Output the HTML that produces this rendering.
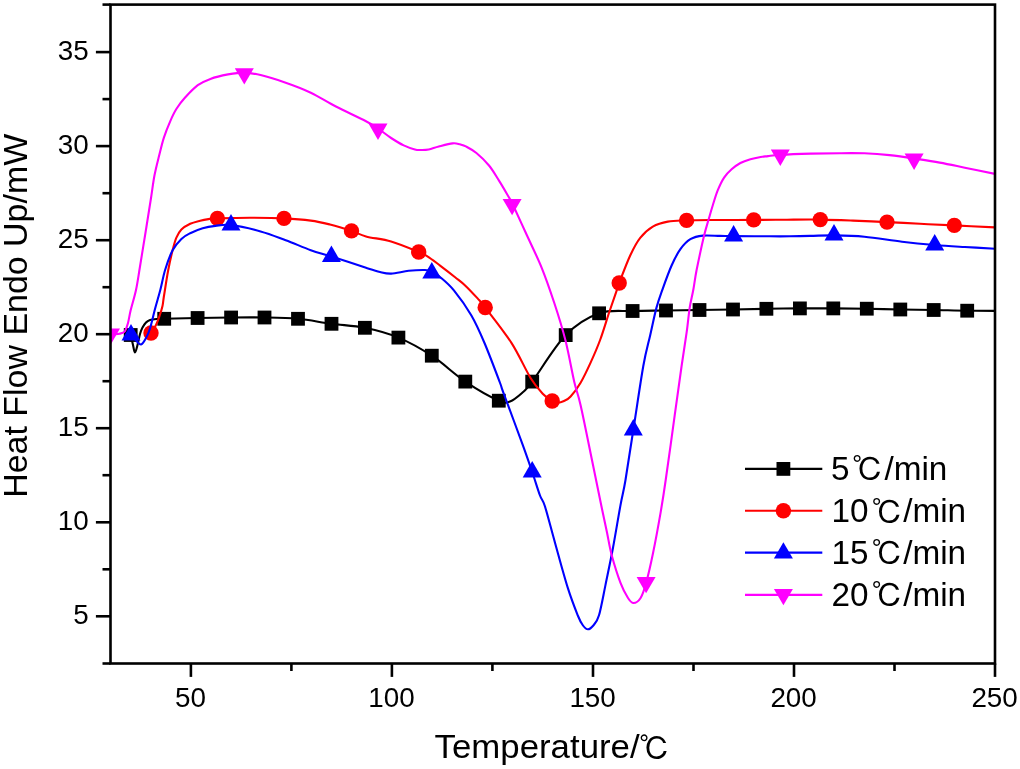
<!DOCTYPE html>
<html lang="en"><head><meta charset="utf-8"><title>Heat Flow vs Temperature</title>
<style>html,body{margin:0;padding:0;background:#fff;}svg{display:block;}text{font-family:"Liberation Sans","Noto Serif CJK SC",sans-serif;fill:#000;}.cj{font-family:"IPAGothic","Noto Serif CJK SC",serif;}</style></head><body>
<svg width="1020" height="769" viewBox="0 0 1020 769">
<rect width="1020" height="769" fill="#fff"/>
<defs><clipPath id="plot"><rect x="110.5" y="4.6" width="884.5" height="658.9"/></clipPath></defs>
<g clip-path="url(#plot)" fill="none" stroke-width="2.1" stroke-linejoin="round">
<path d="M130.7,335.0 C131.1,336.7 132.3,342.1 133.0,345.0 C133.7,347.9 134.2,352.5 135.0,352.5 C135.8,352.5 136.7,348.1 137.5,345.0 C138.3,341.9 139.2,336.9 140.0,334.0 C140.8,331.1 141.5,329.4 142.5,327.5 C143.5,325.6 144.8,323.8 146.0,322.5 C147.2,321.2 148.2,320.6 150.0,320.0 C151.8,319.4 154.6,319.2 157.0,319.0 C159.4,318.8 157.4,319.0 164.2,318.8 C171.0,318.6 186.4,318.2 197.6,318.0 C208.8,317.8 219.9,317.6 231.1,317.5 C242.2,317.4 253.3,317.3 264.5,317.5 C275.6,317.7 286.8,317.8 298.0,318.8 C309.2,319.9 320.4,322.3 331.5,323.8 C342.6,325.3 353.8,325.5 364.9,327.8 C376.0,330.1 387.2,333.0 398.4,337.6 C409.5,342.2 420.6,348.4 431.8,355.7 C443.0,363.0 454.1,374.1 465.3,381.6 C476.5,389.1 491.4,397.4 498.8,400.7 C506.2,404.0 506.1,402.8 510.0,401.5 C513.9,400.2 518.3,396.3 522.0,393.0 C525.7,389.7 524.9,391.2 532.2,381.6 C539.5,372.0 554.6,346.5 565.7,335.1 C576.9,323.7 588.0,317.3 599.1,313.3 C610.2,309.3 621.5,311.5 632.6,311.0 C643.8,310.5 654.9,310.7 666.0,310.5 C677.1,310.3 688.3,310.2 699.5,310.0 C710.7,309.8 721.9,309.7 733.0,309.5 C744.1,309.3 755.2,309.0 766.4,308.8 C777.5,308.6 788.8,308.5 799.9,308.4 C811.0,308.3 822.1,308.3 833.3,308.4 C844.4,308.4 855.6,308.5 866.8,308.7 C878.0,308.9 889.1,309.3 900.3,309.5 C911.4,309.7 922.6,309.8 933.7,310.0 C944.9,310.2 957.0,310.6 967.2,310.7 C977.4,310.8 990.4,310.9 995.0,310.9" stroke="#000"/>
<g stroke="none"><rect x="123.8" y="328.1" width="13.8" height="13.8" fill="#000"/><rect x="157.3" y="311.9" width="13.8" height="13.8" fill="#000"/><rect x="190.7" y="311.1" width="13.8" height="13.8" fill="#000"/><rect x="224.2" y="310.6" width="13.8" height="13.8" fill="#000"/><rect x="257.6" y="310.6" width="13.8" height="13.8" fill="#000"/><rect x="291.1" y="311.9" width="13.8" height="13.8" fill="#000"/><rect x="324.6" y="316.9" width="13.8" height="13.8" fill="#000"/><rect x="358.0" y="320.9" width="13.8" height="13.8" fill="#000"/><rect x="391.5" y="330.7" width="13.8" height="13.8" fill="#000"/><rect x="424.9" y="348.8" width="13.8" height="13.8" fill="#000"/><rect x="458.4" y="374.7" width="13.8" height="13.8" fill="#000"/><rect x="491.9" y="393.8" width="13.8" height="13.8" fill="#000"/><rect x="525.3" y="374.7" width="13.8" height="13.8" fill="#000"/><rect x="558.8" y="328.2" width="13.8" height="13.8" fill="#000"/><rect x="592.2" y="306.4" width="13.8" height="13.8" fill="#000"/><rect x="625.7" y="304.1" width="13.8" height="13.8" fill="#000"/><rect x="659.1" y="303.6" width="13.8" height="13.8" fill="#000"/><rect x="692.6" y="303.1" width="13.8" height="13.8" fill="#000"/><rect x="726.1" y="302.6" width="13.8" height="13.8" fill="#000"/><rect x="759.5" y="301.9" width="13.8" height="13.8" fill="#000"/><rect x="793.0" y="301.5" width="13.8" height="13.8" fill="#000"/><rect x="826.4" y="301.5" width="13.8" height="13.8" fill="#000"/><rect x="859.9" y="301.8" width="13.8" height="13.8" fill="#000"/><rect x="893.4" y="302.6" width="13.8" height="13.8" fill="#000"/><rect x="926.8" y="303.1" width="13.8" height="13.8" fill="#000"/><rect x="960.3" y="303.8" width="13.8" height="13.8" fill="#000"/></g>
<path d="M151.0,333.0 C151.8,331.7 154.6,327.8 156.0,325.0 C157.4,322.2 158.4,319.2 159.5,316.0 C160.6,312.8 161.8,309.2 162.5,306.0 C163.2,302.8 162.9,302.9 163.8,297.0 C164.8,291.1 166.7,278.1 168.2,270.3 C169.7,262.5 171.2,255.6 172.6,250.2 C174.0,244.8 174.9,241.0 176.4,237.6 C177.9,234.2 179.1,231.8 181.4,229.5 C183.7,227.2 187.1,225.3 190.2,223.8 C193.3,222.3 197.2,221.5 200.2,220.7 C203.2,219.9 205.5,219.5 208.4,219.1 C211.3,218.7 210.5,218.6 217.4,218.4 C224.3,218.2 238.9,217.8 250.0,217.8 C261.1,217.8 273.9,217.9 284.0,218.4 C294.1,218.9 303.1,219.6 310.8,220.6 C318.5,221.6 323.2,222.8 330.0,224.5 C336.8,226.2 345.5,228.9 351.5,230.9 C357.5,232.9 359.4,234.6 366.0,236.4 C372.6,238.2 382.3,238.9 391.1,241.5 C399.9,244.1 412.6,249.5 418.7,252.0 C424.8,254.5 424.2,254.3 427.8,256.6 C431.4,258.9 435.8,262.4 440.4,265.8 C444.9,269.2 451.0,273.9 455.1,277.2 C459.2,280.5 461.4,281.9 465.1,285.4 C468.9,288.9 474.2,294.7 477.6,298.4 C481.0,302.1 479.5,300.1 485.2,307.5 C490.9,314.9 504.1,331.4 511.6,343.1 C519.1,354.8 525.2,369.2 530.4,377.7 C535.6,386.2 539.4,390.1 543.0,394.0 C546.6,397.9 549.7,399.6 552.2,401.0 C554.7,402.4 556.0,402.7 558.0,402.7 C560.0,402.7 561.9,402.0 564.0,401.0 C566.1,400.0 567.8,399.6 570.6,396.5 C573.4,393.4 577.3,388.3 580.6,382.7 C583.9,377.1 587.3,369.8 590.6,362.6 C593.9,355.4 597.2,347.9 600.3,339.5 C603.4,331.1 606.6,320.0 609.3,312.0 C612.0,304.0 614.8,296.1 616.4,291.3 C618.0,286.5 616.9,289.0 619.2,283.0 C621.5,277.0 626.7,263.0 630.2,255.5 C633.7,248.0 636.4,242.7 640.2,237.9 C644.0,233.1 648.2,229.3 652.8,226.6 C657.4,223.9 662.2,222.6 667.8,221.6 C673.4,220.6 677.9,220.7 686.6,220.4 C695.3,220.1 708.8,220.1 720.0,220.0 C731.2,219.9 742.5,220.0 753.7,219.9 C764.9,219.8 775.9,219.8 787.0,219.7 C798.1,219.6 809.3,219.4 820.3,219.6 C831.3,219.8 841.9,220.2 853.0,220.6 C864.1,221.0 875.8,221.6 887.0,222.1 C898.2,222.6 908.8,223.2 920.0,223.8 C931.2,224.4 941.8,224.8 954.3,225.4 C966.8,226.0 988.2,227.1 995.0,227.4" stroke="#f00"/>
<g stroke="none"><circle cx="151.0" cy="333.0" r="7.7" fill="#f00"/><circle cx="217.4" cy="218.4" r="7.7" fill="#f00"/><circle cx="284.0" cy="218.4" r="7.7" fill="#f00"/><circle cx="351.5" cy="230.9" r="7.7" fill="#f00"/><circle cx="418.7" cy="252.0" r="7.7" fill="#f00"/><circle cx="485.2" cy="307.5" r="7.7" fill="#f00"/><circle cx="552.2" cy="401.0" r="7.7" fill="#f00"/><circle cx="619.2" cy="283.0" r="7.7" fill="#f00"/><circle cx="686.6" cy="220.4" r="7.7" fill="#f00"/><circle cx="753.7" cy="219.9" r="7.7" fill="#f00"/><circle cx="820.3" cy="219.6" r="7.7" fill="#f00"/><circle cx="887.0" cy="222.1" r="7.7" fill="#f00"/><circle cx="954.3" cy="225.4" r="7.7" fill="#f00"/></g>
<path d="M131.0,335.0 C131.8,335.9 134.3,338.9 136.0,340.5 C137.7,342.1 139.3,344.9 141.0,344.5 C142.7,344.1 144.5,340.7 146.0,338.0 C147.5,335.3 148.5,333.3 150.0,328.5 C151.5,323.7 153.3,315.4 155.0,309.0 C156.7,302.6 158.6,296.5 160.3,290.0 C162.0,283.5 163.1,276.6 165.1,270.0 C167.1,263.4 169.9,255.4 172.6,250.2 C175.3,245.0 178.5,241.7 181.4,238.9 C184.3,236.1 186.6,235.0 190.2,233.2 C193.8,231.4 198.5,229.4 202.7,228.2 C206.9,227.0 210.6,226.4 215.3,225.9 C220.0,225.4 223.4,224.1 231.0,225.0 C238.6,225.9 251.5,228.9 260.6,231.4 C269.7,233.9 277.3,237.1 285.7,240.2 C294.1,243.3 303.2,247.5 310.8,250.2 C318.4,252.9 322.2,253.6 331.4,256.5 C340.6,259.4 357.9,265.2 366.0,267.8 C374.1,270.4 375.8,271.0 380.0,272.0 C384.2,273.0 386.3,273.8 391.1,273.6 C395.9,273.4 403.1,271.4 408.7,270.8 C414.3,270.2 421.1,269.9 425.0,270.0 C428.9,270.1 429.3,270.3 431.8,271.5 C434.3,272.7 436.3,273.9 440.0,277.0 C443.7,280.1 448.7,284.0 453.9,290.4 C459.1,296.8 466.3,306.7 471.4,315.5 C476.5,324.3 479.8,331.9 484.5,343.0 C489.2,354.1 496.5,373.5 499.7,382.0 C502.9,390.5 500.0,383.4 503.9,394.0 C507.8,404.6 518.2,432.4 522.9,445.4 C527.6,458.4 529.4,463.6 532.2,472.0 C535.1,480.4 537.9,489.8 540.0,495.5 C542.1,501.2 542.5,498.5 545.0,506.5 C547.5,514.5 551.4,529.9 555.2,543.5 C559.0,557.1 564.0,575.9 567.8,587.9 C571.6,599.9 575.3,609.2 577.8,615.5 C580.3,621.8 581.3,623.2 583.0,625.5 C584.7,627.8 586.2,629.3 587.9,629.3 C589.6,629.3 591.4,627.8 593.3,625.5 C595.1,623.2 597.0,622.0 599.0,615.3 C601.0,608.6 603.1,596.6 605.4,585.4 C607.7,574.1 610.5,561.2 613.0,547.8 C615.5,534.4 618.4,516.4 620.5,505.1 C622.6,493.8 623.4,492.5 625.5,480.0 C627.6,467.5 630.3,449.0 633.3,430.0 C636.3,411.0 640.5,381.8 643.3,366.0 C646.1,350.2 648.0,344.9 650.2,335.2 C652.4,325.5 654.4,315.3 656.5,307.6 C658.6,299.9 660.2,295.8 662.7,288.8 C665.2,281.8 668.7,272.1 671.6,265.5 C674.5,258.9 677.3,253.6 680.4,249.2 C683.5,244.8 686.6,241.5 690.4,239.2 C694.2,236.9 698.1,236.1 703.0,235.6 C707.9,235.1 714.9,235.8 720.0,235.9 C725.1,236.0 726.9,236.0 733.6,236.1 C740.3,236.2 750.6,236.3 760.0,236.3 C769.4,236.3 781.7,236.4 790.0,236.3 C798.3,236.2 802.7,236.1 810.0,235.9 C817.3,235.8 824.9,235.3 834.0,235.4 C843.1,235.5 853.1,235.6 864.4,236.7 C875.7,237.8 890.3,240.3 902.0,241.7 C913.7,243.1 924.2,244.1 934.7,245.0 C945.2,245.9 954.8,246.4 964.8,247.0 C974.8,247.6 990.0,248.4 995.0,248.7" stroke="#00f"/>
<g stroke="none"><polygon points="131.0,324.1 121.5,340.4 140.5,340.4" fill="#00f"/><polygon points="231.0,214.1 221.5,230.4 240.5,230.4" fill="#00f"/><polygon points="331.4,245.6 321.9,261.9 340.9,261.9" fill="#00f"/><polygon points="431.8,262.1 422.3,278.4 441.3,278.4" fill="#00f"/><polygon points="532.2,461.1 522.7,477.4 541.7,477.4" fill="#00f"/><polygon points="633.3,419.1 623.8,435.4 642.8,435.4" fill="#00f"/><polygon points="733.6,225.1 724.1,241.4 743.1,241.4" fill="#00f"/><polygon points="834.0,224.1 824.5,240.4 843.5,240.4" fill="#00f"/><polygon points="934.7,234.1 925.2,250.4 944.2,250.4" fill="#00f"/></g>
<path d="M110.5,334.0 C111.8,334.0 116.1,334.2 118.0,334.0 C119.9,333.8 120.8,333.5 122.0,333.0 C123.2,332.5 124.0,332.7 125.0,331.0 C126.0,329.3 127.1,326.4 128.0,323.0 C128.9,319.6 129.3,316.1 130.6,310.6 C131.9,305.1 134.4,297.4 136.0,290.0 C137.6,282.6 138.4,276.2 140.0,266.5 C141.6,256.8 143.8,243.1 145.6,232.0 C147.4,220.9 149.2,209.4 150.7,200.0 C152.2,190.6 153.1,182.6 154.5,175.3 C155.9,168.1 157.3,162.8 158.9,156.5 C160.5,150.2 162.0,143.5 163.9,137.6 C165.8,131.7 168.1,126.1 170.2,121.3 C172.3,116.5 174.0,112.8 176.5,108.8 C179.0,104.8 181.8,101.2 185.3,97.3 C188.9,93.4 193.6,88.3 197.8,85.2 C202.0,82.1 205.4,80.7 210.4,78.9 C215.4,77.1 222.3,75.5 228.0,74.4 C233.7,73.4 238.9,72.5 244.3,72.6 C249.7,72.7 253.7,73.4 260.6,75.1 C267.5,76.8 277.3,79.8 285.7,82.7 C294.1,85.6 302.4,88.7 310.8,92.7 C319.2,96.7 326.7,101.8 335.9,106.5 C345.1,111.2 359.0,117.5 366.0,121.2 C373.0,124.9 373.8,125.7 378.0,128.5 C382.2,131.3 386.8,135.2 391.1,138.0 C395.4,140.8 399.7,143.5 403.7,145.4 C407.7,147.3 412.0,148.7 414.9,149.5 C417.8,150.3 418.7,150.0 421.0,150.0 C423.3,150.0 425.7,150.1 428.7,149.5 C431.7,148.9 434.8,147.5 438.8,146.5 C442.8,145.5 449.1,143.8 452.6,143.4 C456.1,143.0 457.7,143.8 460.0,144.3 C462.3,144.9 463.7,145.2 466.4,146.7 C469.1,148.1 472.6,149.9 476.4,153.0 C480.2,156.1 485.2,160.9 489.0,165.5 C492.8,170.1 495.6,175.2 499.0,180.6 C502.4,185.9 506.9,193.9 509.1,197.6 C511.3,201.3 509.4,197.3 512.1,203.0 C514.8,208.7 520.5,221.2 525.4,232.0 C530.3,242.8 536.9,256.0 541.7,267.8 C546.5,279.6 550.3,290.9 554.3,303.0 C558.3,315.1 562.2,327.4 565.5,340.6 C568.8,353.8 571.8,371.2 574.3,382.0 C576.8,392.8 577.5,391.3 580.6,405.3 C583.8,419.3 589.6,448.7 593.2,466.0 C596.8,483.3 599.7,497.9 602.0,509.0 C604.3,520.1 605.4,524.8 607.0,532.5 C608.6,540.2 609.5,546.9 611.7,555.3 C614.0,563.7 617.8,575.8 620.5,582.9 C623.2,590.0 625.8,594.6 628.0,598.0 C630.2,601.4 631.4,603.0 633.5,603.0 C635.6,603.0 638.5,601.3 640.6,598.0 C642.7,594.7 644.0,590.5 646.1,583.0 C648.2,575.5 650.7,564.5 653.1,552.8 C655.5,541.1 658.5,524.7 660.6,512.6 C662.7,500.5 663.4,496.2 665.7,480.0 C668.1,463.8 672.1,434.3 674.7,415.3 C677.4,396.3 679.6,379.8 681.6,366.0 C683.6,352.2 685.2,342.4 686.6,332.7 C688.0,323.0 688.6,314.9 689.7,307.6 C690.9,300.3 692.4,295.1 693.5,288.8 C694.6,282.5 694.9,278.8 696.6,270.0 C698.4,261.2 702.0,244.3 704.0,236.0 C706.0,227.7 706.9,225.4 708.4,220.3 C709.9,215.2 711.2,210.2 712.8,205.2 C714.4,200.2 715.9,194.8 717.8,190.2 C719.7,185.6 721.8,181.1 724.1,177.6 C726.4,174.1 728.9,171.7 731.6,169.3 C734.3,166.9 737.3,164.7 740.4,163.0 C743.5,161.3 747.0,160.2 750.4,159.2 C753.8,158.2 757.8,157.5 760.7,157.0 C763.6,156.5 764.7,156.5 768.0,156.1 C771.3,155.7 773.1,155.2 780.3,154.8 C787.4,154.4 800.9,153.9 810.9,153.6 C820.9,153.3 831.1,153.2 840.0,153.2 C848.9,153.1 856.1,153.0 864.4,153.3 C872.6,153.6 881.2,154.2 889.5,155.1 C897.8,156.0 905.7,157.2 914.1,158.5 C922.5,159.8 931.2,161.1 939.7,162.6 C948.2,164.1 955.6,165.8 964.8,167.7 C974.0,169.6 990.0,172.9 995.0,173.9" stroke="#f0f"/>
<g stroke="none"><polygon points="110.5,344.9 101.0,328.6 120.0,328.6" fill="#f0f"/><polygon points="244.3,84.5 234.8,68.2 253.8,68.2" fill="#f0f"/><polygon points="378.0,139.9 368.5,123.6 387.5,123.6" fill="#f0f"/><polygon points="512.1,215.2 502.6,198.9 521.6,198.9" fill="#f0f"/><polygon points="646.1,593.3 636.6,577.0 655.6,577.0" fill="#f0f"/><polygon points="780.3,165.9 770.8,149.6 789.8,149.6" fill="#f0f"/><polygon points="914.1,169.9 904.6,153.6 923.6,153.6" fill="#f0f"/></g>
</g>
<g stroke="#000" stroke-width="2.6" fill="none" stroke-linecap="butt">
<rect x="110.5" y="4.6" width="884.5" height="658.9"/>
<line x1="95.9" y1="616.3" x2="110.5" y2="616.3"/>
<line x1="95.9" y1="522.3" x2="110.5" y2="522.3"/>
<line x1="95.9" y1="428.2" x2="110.5" y2="428.2"/>
<line x1="95.9" y1="334.2" x2="110.5" y2="334.2"/>
<line x1="95.9" y1="240.2" x2="110.5" y2="240.2"/>
<line x1="95.9" y1="146.1" x2="110.5" y2="146.1"/>
<line x1="95.9" y1="52.1" x2="110.5" y2="52.1"/>
<line x1="102.5" y1="569.3" x2="110.5" y2="569.3"/>
<line x1="102.5" y1="475.2" x2="110.5" y2="475.2"/>
<line x1="102.5" y1="381.2" x2="110.5" y2="381.2"/>
<line x1="102.5" y1="287.2" x2="110.5" y2="287.2"/>
<line x1="102.5" y1="193.2" x2="110.5" y2="193.2"/>
<line x1="102.5" y1="99.1" x2="110.5" y2="99.1"/>
<line x1="190.9" y1="663.5" x2="190.9" y2="676.9"/>
<line x1="391.9" y1="663.5" x2="391.9" y2="676.9"/>
<line x1="593.0" y1="663.5" x2="593.0" y2="676.9"/>
<line x1="794.0" y1="663.5" x2="794.0" y2="676.9"/>
<line x1="995.0" y1="663.5" x2="995.0" y2="676.9"/>
<line x1="291.4" y1="663.5" x2="291.4" y2="671.0"/>
<line x1="492.4" y1="663.5" x2="492.4" y2="671.0"/>
<line x1="693.5" y1="663.5" x2="693.5" y2="671.0"/>
<line x1="894.5" y1="663.5" x2="894.5" y2="671.0"/>
<line x1="102.5" y1="4.6" x2="110.5" y2="4.6"/>
<line x1="102.5" y1="663.5" x2="110.5" y2="663.5"/>
</g>
<g font-size="27.8">
<text x="88.7" y="624.1" text-anchor="end">5</text>
<text x="88.7" y="530.1" text-anchor="end">10</text>
<text x="88.7" y="436.1" text-anchor="end">15</text>
<text x="88.7" y="342.1" text-anchor="end">20</text>
<text x="88.7" y="248.0" text-anchor="end">25</text>
<text x="88.7" y="154.0" text-anchor="end">30</text>
<text x="88.7" y="60.0" text-anchor="end">35</text>
<text x="190.5" y="707.0" text-anchor="middle">50</text>
<text x="391.5" y="707.0" text-anchor="middle">100</text>
<text x="592.6" y="707.0" text-anchor="middle">150</text>
<text x="793.6" y="707.0" text-anchor="middle">200</text>
<text x="994.6" y="707.0" text-anchor="middle">250</text>
</g>
<text x="434.6" y="758.2" font-size="33.8"><tspan textLength="205.0" lengthAdjust="spacingAndGlyphs">Temperature/</tspan><tspan class="cj" x="639.1" y="760.1" font-size="31">℃</tspan></text>
<text transform="translate(27.3,315.8) rotate(-90)" text-anchor="middle" font-size="33.8" textLength="364.0" lengthAdjust="spacingAndGlyphs">Heat Flow Endo Up/mW</text>
<line x1="745" y1="468.9" x2="822.3" y2="468.9" stroke="#000" stroke-width="2.1"/>
<rect x="776.5" y="462.0" width="13.8" height="13.8" fill="#000"/>
<text x="831.0" y="480.2" font-size="33.3">5<tspan class="cj" x="852.0" y="481.3" font-size="31.5">℃</tspan><tspan x="884.4" y="480.2">/min</tspan></text>
<line x1="745" y1="510.8" x2="822.3" y2="510.8" stroke="#f00" stroke-width="2.1"/>
<circle cx="783.4" cy="510.8" r="7.7" fill="#f00"/>
<text x="831.6" y="522.4" font-size="33.3">10<tspan class="cj" x="871.5" y="523.5" font-size="31.5">℃</tspan><tspan x="903.2" y="522.4">/min</tspan></text>
<line x1="745" y1="552.6" x2="822.3" y2="552.6" stroke="#00f" stroke-width="2.1"/>
<polygon points="783.4,542.3 773.9,558.6 792.9,558.6" fill="#00f"/>
<text x="831.6" y="563.8" font-size="33.3">15<tspan class="cj" x="871.5" y="564.9" font-size="31.5">℃</tspan><tspan x="903.2" y="563.8">/min</tspan></text>
<line x1="745" y1="594.9" x2="822.3" y2="594.9" stroke="#f0f" stroke-width="2.1"/>
<polygon points="783.4,605.2 773.9,588.9 792.9,588.9" fill="#f0f"/>
<text x="831.6" y="605.7" font-size="33.3">20<tspan class="cj" x="871.5" y="606.8" font-size="31.5">℃</tspan><tspan x="903.2" y="605.7">/min</tspan></text>
</svg></body></html>
